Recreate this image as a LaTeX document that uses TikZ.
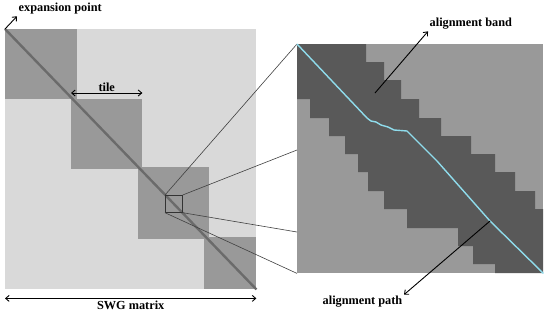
\documentclass[tikz,border=0pt]{standalone}
\usepackage{fontspec}
\setmainfont{Liberation Serif}
\usetikzlibrary{arrows.meta, positioning, calc}
\definecolor{matlight}{HTML}{D9D9D9}
\definecolor{tilegray}{HTML}{999999}
\definecolor{diaggray}{HTML}{6B6B6B}
\definecolor{banddark}{HTML}{595959}
\definecolor{pathcyan}{HTML}{8FDCEC}
\tikzset{
  matbox/.style={fill=matlight, inner sep=0pt, anchor=north west},
  tilebox/.style={fill=tilegray, inner sep=0pt, anchor=north west},
  insetbox/.style={fill=tilegray, inner sep=0pt, anchor=north west},
  zoombox/.style={draw=black!80, line width=0.7pt, inner sep=0pt, anchor=north west, minimum size=17pt},
  diagline/.style={diaggray, line width=2.4pt},
  zoomline/.style={black!75, line width=0.6pt},
  cyanpath/.style={pathcyan, line width=1.4pt, line join=round},
  arr/.style={-{Straight Barb[length=3.5pt, width=6pt]}, line width=0.9pt},
  dblarr/.style={{Straight Barb[length=3.5pt, width=6pt]}-{Straight Barb[length=3.5pt, width=6pt]}, line width=0.9pt},
  lbl/.style={font=\fontsize{12.3}{14}\selectfont\bfseries, inner sep=1.5pt},
}
\begin{document}
\begin{tikzpicture}[x=1pt, y=-1pt]
  \useasboundingbox (0,0) rectangle (550,317);
  % SWG matrix with its tiles
  \node[matbox, minimum width=251pt, minimum height=260pt] (swg) at (5,29) {};
  \node[tilebox, minimum width=72pt, minimum height=70pt] (tileA) at (5,29) {};
  \node[tilebox, minimum width=71pt, minimum height=70pt] (tileB) at (71,99) {};
  \node[tilebox, minimum width=71pt, minimum height=72pt] (tileC) at (138,167) {};
  \node[tilebox, minimum width=52pt, minimum height=52pt] (tileD) at (204,237) {};
  \draw[diagline] (swg.north west) -- (swg.south east);
  \node[zoombox] (zoom) at (165,195) {};

  % magnified view
  \node[insetbox, minimum width=246pt, minimum height=229pt] (inset) at (297,44) {};
  \coordinate (edgeA) at (297,150);
  \coordinate (edgeB) at (297,232);
  \draw[zoomline] (zoom.north west) -- (inset.north west);
  \draw[zoomline] (zoom.north east) -- (edgeA);
  \draw[zoomline] (zoom.south east) -- (edgeB);
  \draw[zoomline] (zoom.south west) -- (inset.south west);

  % alignment band
  \fill[banddark] (297,44) -- (366,44) -- (366,62) -- (384,62) -- (384,80) -- (401,80)
    -- (401,99) -- (419,99) -- (419,118) -- (441,118) -- (441,136) -- (471,136)
    -- (471,154) -- (495,154) -- (495,172) -- (515,172) -- (515,191) -- (535,191)
    -- (535,209) -- (543,209) -- (543,273) -- (495,273) -- (495,264) -- (473,264)
    -- (473,246) -- (458,246) -- (458,228) -- (407,228) -- (407,209) -- (384,209)
    -- (384,191) -- (368,191) -- (368,172) -- (358,172) -- (358,154) -- (345,154)
    -- (345,136) -- (329,136) -- (329,118) -- (310,118) -- (310,99) -- (297,99) -- cycle;
  % alignment path
  \draw[cyanpath] (inset.north west) -- (367,118) -- (371,121) -- (376,122) -- (381,125)
    -- (388,127) -- (394,130) -- (407,131) -- (423,147) -- (437,161) -- (490,221)
    -- (inset.south east);

  % labels
  \node[lbl, anchor=west] (explbl) at (17,9) {expansion point};
  \draw[arr] (swg.north west) -- (explbl.south west);
  \coordinate (tileL) at ([yshift=6pt]tileB.north west);
  \coordinate (tileR) at ([yshift=6pt]tileB.north east);
  \draw[dblarr] (tileL) -- (tileR);
  \node[lbl, above=0pt of $(tileL)!0.5!(tileR)$] (tilelbl) {tile};
  \coordinate (swgL) at ([yshift=-9pt]swg.south west);
  \coordinate (swgR) at ([yshift=-9pt]swg.south east);
  \draw[dblarr] (swgL) -- (swgR);
  \node[lbl, below=1pt of $(swgL)!0.5!(swgR)$] (swglbl) {SWG matrix};
  \coordinate (bandpt) at (375,93);
  \node[lbl, anchor=west] (bandlbl) at (428,24) {alignment band};
  \draw[arr] (bandpt) -- (bandlbl.south west);
  \coordinate (pathpt) at (490,221);
  \node[lbl, anchor=east] (pathlbl) at (404,302) {alignment path};
  \draw[arr] (pathpt) -- (pathlbl.north east);
\end{tikzpicture}
\end{document}
